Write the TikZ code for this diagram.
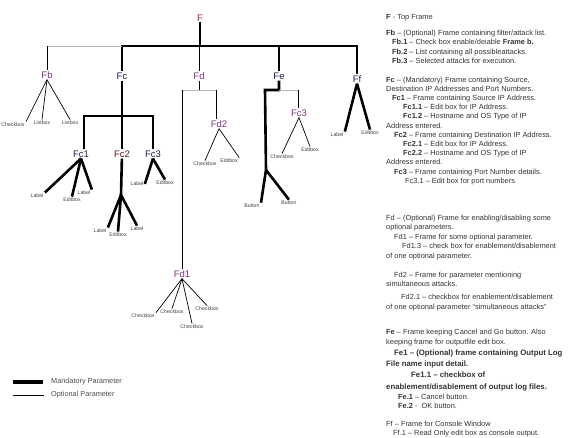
\documentclass[tikz,border=0pt]{standalone}
\usepackage{fontspec}
\setmainfont{Liberation Sans}
\definecolor{mandcol}{RGB}{30,30,80}
\definecolor{optcol}{RGB}{125,50,125}
\definecolor{topcol}{RGB}{165,30,40}
\tikzset{
frame/.style={ % Labels of the frames in the tree
font=\fontsize{9.5}{10}\selectfont,
inner sep=1pt,
text=mandcol},
optframe/.style={frame, text=optcol},
leaf/.style={ % Controls at the ends of the branches
font=\fontsize{5.2}{6}\selectfont,
inner sep=0.5pt, outer sep=1pt,
text=black!75},
mand/.style={line width=2.6pt}, % Mandatory parameter
opt/.style={line width=0.7pt}, % Optional parameter
link/.style={gray!55, line width=0.9pt},
note/.style={anchor=north west, align=left, inner sep=0pt,
text=black!80, font=\fontsize{7.4}{9.3}\selectfont},
key/.style={anchor=west, inner sep=0pt, text=black!70,
font=\fontsize{7.3}{8}\selectfont}}

\begin{document}
\begin{tikzpicture}[x=1pt, y=-1pt]
\useasboundingbox (0,0) rectangle (587,438);

% frames
\node[frame, text=topcol] (F) at (200,18) {F};
\node[optframe] (Fb) at (47,75) {Fb};
\node[frame] (Fc) at (122,76) {Fc};
\node[optframe] (Fd) at (199,76) {Fd};
\node[frame] (Fe) at (279,76) {Fe};
\node[frame] (Ff) at (357,79) {Ff};
\node[frame] (Fc1) at (81,154) {Fc1};
\node[frame, text=topcol!60!black] (Fc2) at (122,154) {Fc2};
\node[frame] (Fc3) at (153,154) {Fc3};
\node[optframe] (Fd1) at (182,274) {Fd1};
\node[optframe] (Fd2) at (219,124) {Fd2};
\node[optframe] (Fe1) at (299,113) {Fc3};

% junctions
\coordinate (top) at (200,46);
\coordinate (bB) at (47,46);
\coordinate (bD) at (199,46);
\coordinate (bE) at (279,46);
\coordinate (bF) at (357,46);
\coordinate (c1) at (84,116);
\coordinate (c3) at (153,116);
\coordinate (c2) at (121,195);
\coordinate (d1) at (182,90);
\coordinate (d2) at (216,90);
\coordinate (e1) at (265,90);
\coordinate (e2) at (298,90);
\coordinate (e3) at (266,170);

% top level
\draw[mand] (F) -- (top);
\draw[mand] (Fc) |- (bF) -- (Ff);
\draw[mand] (bE) -- (Fe);
\draw[link] (bB) -- (Fc |- bB);
\draw[opt] (bB) -- (Fb);
\draw[opt] (bD) -- (Fd);

% Fb
\node[leaf] (fb1) at (13,125) {Checkbox};
\node[leaf] (fb2) at (42,123) {Listbox};
\node[leaf] (fb3) at (70,123) {Listbox};
\draw[opt] (Fb.south) -- (fb1.north east);
\draw[opt] (Fb.south) -- (fb2.north);
\draw[opt] (Fb.south) -- (fb3.north);

% Fc
\draw[mand] (Fc) -- (Fc2);
\draw[mand] (c1 |- Fc1.north) -- (c1) -- (c3) -- (c3 |- Fc3.north);
\node[leaf] (fc11) at (37,196) {Label};
\node[leaf] (fc12) at (72,200) {Editbox};
\node[leaf] (fc13) at (84,193) {Label};
\draw[mand] (Fc1.south) -- (fc11.north east);
\draw[mand] (Fc1.south) -- (fc12.north);
\draw[mand] (Fc1.south) -- (fc13.north east);
\draw[mand] (Fc2) -- (c2);
\node[leaf] (fc21) at (100,231) {Label};
\node[leaf] (fc22) at (118,235) {Editbox};
\node[leaf] (fc23) at (137,229) {Label};
\draw[mand] (c2) -- (fc21.north east);
\draw[mand] (c2) -- (fc22.north);
\draw[mand] (c2) -- (fc23.north);
\node[leaf] (fc31) at (137,184) {Label};
\node[leaf] (fc32) at (165,183) {Editbox};
\draw[mand] (Fc3.south) -- (fc31.east);
\draw[mand] (Fc3.south) -- (fc32.north);

% Fd
\draw[opt] (Fd) -- (Fd |- d1);
\draw[link] (d1) -- (d2);
\draw[opt] (d1) -- (Fd1);
\draw[opt] (d2) -- (d2 |- Fd2.north);
\node[leaf] (fd21) at (205,164) {Checkbox};
\node[leaf] (fd22) at (229,161) {Editbox};
\draw[opt] (Fd2.south) -- (fd21.north);
\draw[opt] (Fd2.south) -- (fd22.north east);
\node[leaf] (fd11) at (143,316) {Checkbox};
\node[leaf] (fd12) at (172,312) {Checkbox};
\node[leaf] (fd13) at (192,327) {Checkbox};
\node[leaf] (fd14) at (207,309) {Checkbox};
\draw[opt] (Fd1.south) -- (fd11.north east);
\draw[opt] (Fd1.south) -- (fd12.north);
\draw[opt] (Fd1.south) -- (fd13.north);
\draw[opt] (Fd1.south) -- (fd14.north);

% Fe
\draw[mand] (e3) -- (e1) -- (e1 -| Fe) -- (Fe);
\draw[link] (e1 -| Fe) -- (e2);
\draw[opt] (e2) -- (e2 |- Fe1.north);
\node[leaf] (fe1) at (252,206) {Button};
\node[leaf] (fe2) at (289,203) {Button};
\draw[mand] (e3) -- (fe1.north east);
\draw[mand] (e3) -- (fe2.north);
\node[leaf] (fe11) at (282,157) {Checkbox};
\node[leaf] (fe12) at (310,150) {Editbox};
\draw[opt] (Fe1.south) -- (fe11.north);
\draw[opt] (Fe1.south) -- (fe12.north);

% Ff
\node[leaf] (ff1) at (337,135) {Label};
\node[leaf] (ff2) at (370,133) {Editbox};
\draw[mand] (Ff.south) -- (ff1.north east);
\draw[mand] (Ff.south) -- (ff2.north);

% legend
\coordinate (lm) at (13,382);
\coordinate (lo) at (13,395);
\draw[line width=3.5pt] (lm) -- ++(30,0);
\draw[opt] (lo) -- ++(31,0);
\node[key] (km) at (51,382) {Mandatory Parameter};
\node[key] (ko) at (51,395) {Optional Parameter};

% notes
\node[note] (tF) at (386,14.5) {\textbf{F} - Top Frame};
\node[note, font=\fontsize{7.4}{9.5}\selectfont] (tFb) at (386,29.5) {\textbf{Fb} – (Optional) Frame containing filter/attack list.\\
\hspace*{6pt}\textbf{Fb.1} – Check box enable/deiable \textbf{Frame b.}\\
\hspace*{6pt}\textbf{Fb.2} – List containing all possibleattacks.\\
\hspace*{6pt}\textbf{Fb.3} – Selected attacks for execution.};
\node[note, font=\fontsize{7.4}{9.2}\selectfont] (tFc) at (386,76.5) {\textbf{Fc} – (Mandatory) Frame containing Source,\\
Destination IP Addresses and Port Numbers.\\
\hspace*{6pt}\textbf{Fc1} – Frame containing Source IP Address.\\
\hspace*{17pt}\textbf{Fc1.1} – Edit box for IP Address.\\
\hspace*{17pt}\textbf{Fc1.2} – Hostname and OS Type of IP\\
Address entered.\\
\hspace*{8pt}\textbf{Fc2} – Frame containing Destination IP Address.\\
\hspace*{17pt}\textbf{Fc2.1} – Edit box for IP Address.\\
\hspace*{17pt}\textbf{Fc2.2} – Hostname and OS Type of IP\\
Address entered.\\
\hspace*{8pt}\textbf{Fc3} – Frame containing Port Number details.\\
\hspace*{19pt}Fc3.1 – Edit box for port numbers};
\node[note, font=\fontsize{7.4}{9.5}\selectfont] (tFd) at (386,214.5) {Fd – (Optional) Frame for enabling/disabling some\\
optional parameters.\\
\hspace*{8pt}Fd1 – Frame for some optional parameter.\\
\hspace*{16pt}Fd1.3 – check box for enablement/disablement\\
of one optional parameter.\\[9.5pt]
\hspace*{8pt}Fd2 – Frame for parameter mentioning\\
simultaneous attacks.\\[3.5pt]
\hspace*{15pt}Fd2.1 – checkbox for enablement/disablement\\
of one optional parameter “simultaneous attacks”};
\node[note, font=\fontsize{7.4}{10}\selectfont] (tFe) at (386,328.5) {\textbf{Fe} – Frame keeping Cancel and Go button. Also\\
keeping frame for outputfile edit box.};
\node[note, font=\bfseries\fontsize{7.8}{11.3}\selectfont] (tFe1) at (386,349.5) {\hspace*{8pt}Fe1 – (Optional) frame containing Output Log\\
File name input detail.\\
\hspace*{25pt}Fe1.1 – checkbox of\\
enablement/disablement of output log files.};
\node[note] (tFe2) at (386,393.5) {\hspace*{12pt}\textbf{Fe.1} – Cancel button.\\
\hspace*{12pt}\textbf{Fe.2} -\ \ OK button.};
\node[note] (tFf) at (386,420.5) {Ff – Frame for Console Window\\
\hspace*{7pt}Ff.1 – Read Only edit box as console output.};
\end{tikzpicture}
\end{document}
